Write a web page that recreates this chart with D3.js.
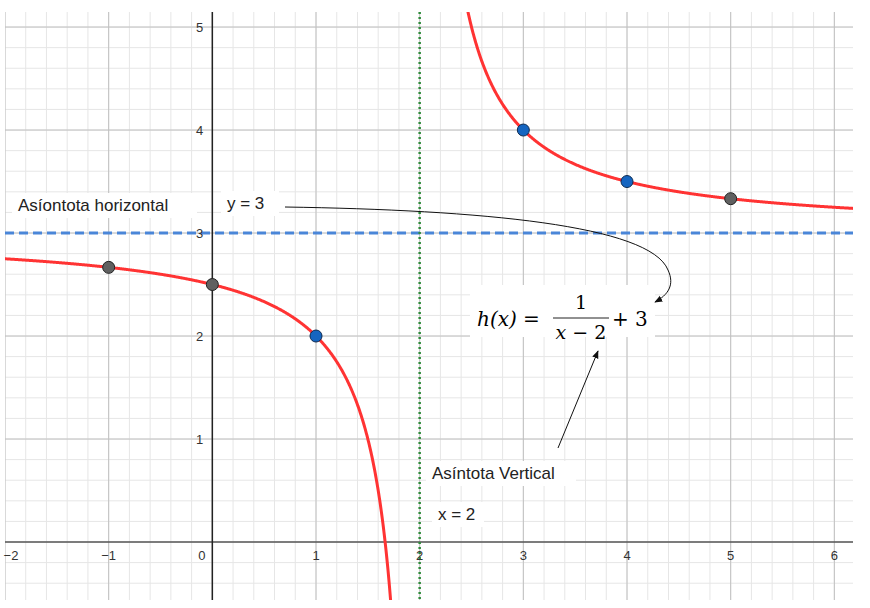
<!DOCTYPE html>
<html><head><meta charset="utf-8">
<script src="https://cdn.jsdelivr.net/npm/d3@7"></script>
<style>body{margin:0;background:#fff}text{font-family:"Liberation Sans",Arial,sans-serif}text.m{font-family:"DejaVu Serif",serif}</style>
</head><body>
<svg id="c" width="870" height="608"></svg>
<script>
const xDomain = [-2.0, 6.18]
const yDomain = [-0.563, 5.146]
const xTicks = [-2, -1, 0, 1, 2, 3, 4, 5, 6]
const yTicks = [1, 2, 3, 4, 5]
const grayPts = [-1, 0, 5]
const bluePts = [1, 3, 4]
const h = x => 1 / (x - 2) + 3

const svg = d3.select('#c')
const x = d3.scaleLinear().domain(xDomain).range([5, 853])
const y = d3.scaleLinear().domain(yDomain).range([600, 12])

svg.append('clipPath').attr('id', 'cl').append('rect')
  .attr('x', 5).attr('y', 12).attr('width', 848).attr('height', 588)
const g = svg.append('g').attr('clip-path', 'url(#cl)')

// minor grid
for (let v = -2; v <= 6.2; v += 0.2) {
  g.append('line').attr('x1', x(v)).attr('x2', x(v)).attr('y1', 12).attr('y2', 600).attr('stroke', '#e6e6e6')
}
for (let v = -0.4; v <= 5.2; v += 0.2) {
  g.append('line').attr('y1', y(v)).attr('y2', y(v)).attr('x1', 5).attr('x2', 853).attr('stroke', '#e6e6e6')
}
xTicks.forEach(v => g.append('line').attr('x1', x(v)).attr('x2', x(v)).attr('y1', 12).attr('y2', 600).attr('stroke', '#c0c0c0'))
yTicks.forEach(v => g.append('line').attr('y1', y(v)).attr('y2', y(v)).attr('x1', 5).attr('x2', 853).attr('stroke', '#c0c0c0'))

// axes
g.append('line').attr('x1', 5).attr('x2', 853).attr('y1', y(0)).attr('y2', y(0)).attr('stroke', '#555').attr('stroke-width', 1.5)
g.append('line').attr('x1', x(0)).attr('x2', x(0)).attr('y1', 12).attr('y2', 600).attr('stroke', '#222').attr('stroke-width', 1.5)

xTicks.filter(v => v !== 0).forEach(v => svg.append('text').attr('x', v === -2 ? x(v) + 6 : x(v)).attr('y', y(0) + 18)
  .attr('text-anchor', 'middle').attr('font-size', 13).attr('fill', '#333').text(v < 0 ? '\u2212' + (-v) : v))
svg.append('text').attr('x', x(0) - 14).attr('y', y(0) + 18).attr('font-size', 13).attr('fill', '#333').text('0')
yTicks.forEach(v => svg.append('text').attr('x', x(0) - 9).attr('y', y(v) + 5)
  .attr('text-anchor', 'end').attr('font-size', 13).attr('fill', '#333').text(v))

// asymptotes
g.append('line').attr('x1', 5).attr('x2', 853).attr('y1', y(3)).attr('y2', y(3))
  .attr('stroke', '#4a86d8').attr('stroke-width', 3).attr('stroke-dasharray', '9,5')
g.append('line').attr('x1', x(2)).attr('x2', x(2)).attr('y1', 12).attr('y2', 600)
  .attr('stroke', '#2e8b3a').attr('stroke-width', 2.5).attr('stroke-dasharray', '2,3')

// curve
const line = d3.line().x(d => x(d[0])).y(d => y(d[1]))
const left = d3.range(-2.1, 1.85, 0.005).map(v => [v, h(v)])
const right = d3.range(2.15, 6.3, 0.005).map(v => [v, h(v)])
;[left, right].forEach(d => g.append('path').attr('d', line(d)).attr('fill', 'none').attr('stroke', '#ff3333').attr('stroke-width', 3))

grayPts.forEach(v => svg.append('circle').attr('cx', x(v)).attr('cy', y(h(v))).attr('r', 6).attr('fill', '#606060').attr('stroke', '#222'))
bluePts.forEach(v => svg.append('circle').attr('cx', x(v)).attr('cy', y(h(v))).attr('r', 6).attr('fill', '#1565c0').attr('stroke', '#0d2a50'))

// labels with white backgrounds
function label(tx, ty, txt, w) {
  svg.append('rect').attr('x', tx - 6).attr('y', ty - 18).attr('width', w).attr('height', 25).attr('fill', '#fff')
  svg.append('text').attr('x', tx).attr('y', ty).attr('font-size', 17).attr('fill', '#222').text(txt)
}
label(18, 211, 'Asíontota horizontal', 185)
label(227, 209, 'y = 3', 58)
label(432, 479, 'Asíntota Vertical', 150)
label(438, 520, 'x = 2', 52)

// formula
svg.append('rect').attr('x', 470).attr('y', 285).attr('width', 185).attr('height', 52).attr('fill', '#fff')
svg.append('text').attr('class', 'm').attr('x', 477).attr('y', 326).attr('font-size', 20).attr('font-style', 'italic').text('h(x) =')
svg.append('text').attr('class', 'm').attr('x', 581).attr('y', 309).attr('font-size', 19).attr('text-anchor', 'middle').text('1')
svg.append('line').attr('x1', 553).attr('x2', 609).attr('y1', 318).attr('y2', 318).attr('stroke', '#222')
svg.append('text').attr('class', 'm').attr('x', 581).attr('y', 339).attr('font-size', 19).attr('text-anchor', 'middle').html('<tspan font-style="italic">x</tspan> − 2')
svg.append('text').attr('class', 'm').attr('x', 612).attr('y', 326).attr('font-size', 20).text('+ 3')

// arrows
svg.append('defs').append('marker').attr('id', 'ar').attr('viewBox', '0 0 10 10').attr('refX', 9).attr('refY', 5)
  .attr('markerWidth', 8).attr('markerHeight', 8).attr('orient', 'auto')
  .append('path').attr('d', 'M0,1 L10,5 L0,9 Z').attr('fill', '#111')
svg.append('path').attr('d', 'M285,207 C480,210 650,225 668,270 C675,285 668,295 655,302')
  .attr('fill', 'none').attr('stroke', '#111').attr('marker-end', 'url(#ar)')
svg.append('line').attr('x1', 558).attr('y1', 448).attr('x2', 598).attr('y2', 351)
  .attr('stroke', '#111').attr('marker-end', 'url(#ar)')
</script>
</body></html>
